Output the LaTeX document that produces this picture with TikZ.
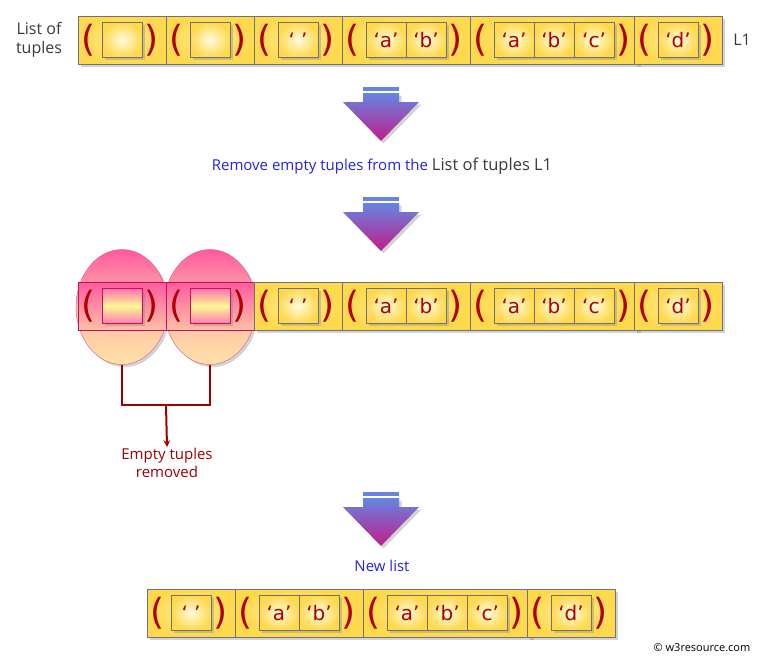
\documentclass[tikz,border=0pt]{standalone}
\usepackage{fontspec}
\setmainfont{Open Sans}
\newfontfamily\cellfont{DejaVu Sans}
\usetikzlibrary{arrows,shapes.geometric,shadows}

\definecolor{cellyellow}{HTML}{FFD94C}
\definecolor{glow}{HTML}{FFFBE2}
\definecolor{edgegray}{HTML}{6F7080}
\definecolor{tupred}{HTML}{B00000}
\definecolor{hotpink}{HTML}{FF5AA0}
\definecolor{peach}{HTML}{FFE2A8}
\definecolor{pinkedge}{HTML}{C8105A}
\definecolor{lemon}{HTML}{FFF696}
\definecolor{textblue}{HTML}{2323E6}
\definecolor{textgray}{HTML}{3A3A3A}
\definecolor{arrowtop}{HTML}{6585E2}
\definecolor{arrowbot}{HTML}{C21C8A}

% one tuple: name, left x, top y, number of items, items, colour (yellow/pink)
\newcommand\tuplecell[6]{%
  \node[#6cell, minimum width={48+40*#4}, anchor=north west] (#1) at (#2,#3) {};
  \node[paren] (#1-l) at ([xshift=11]#1.west) {(};
  \node[paren] (#1-r) at ([xshift=-14]#1.east) {)};
  \foreach \t [count=\i] in {#5}
    \node[#6box] (#1-\i) at ([xshift={4+40*\i}]#1.west) {\t};
}

% the down arrow between the steps, (x,y) = top of its bar
\newcommand\flowarrow[2]{%
  \fill[arrowtop] (#1-18,#2) rectangle (#1+18,#2+4);
  \shade[top color=arrowtop, bottom color=arrowbot]
    (#1-18,#2+6) -- (#1+18,#2+6) -- (#1+18,#2+15) -- (#1+38,#2+15)
    -- (#1,#2+54) -- (#1-38,#2+15) -- (#1-18,#2+15) -- cycle;
}

\begin{document}
\begin{tikzpicture}[
            x = 1pt, y = -1pt, % pixel grid
            > = stealth, % arrow head style
            shade/.style = {drop shadow={shadow xshift=2.5pt, shadow yshift=-2.5pt, opacity=.35}},
            yellowcell/.style = {draw=edgegray, inner color=cellyellow!55!glow, outer color=cellyellow, minimum height=48, inner sep=0, outer sep=0, shade},
            yellowbox/.style = {draw=edgegray, inner color=glow, outer color=cellyellow, minimum width=40, minimum height=35, inner sep=0, text=tupred, font=\cellfont\fontsize{20}{20}\selectfont, shade},
            pinkcell/.style = {draw=pinkedge, top color=hotpink, bottom color=hotpink!25!peach, minimum height=48, inner sep=0, outer sep=0},
            pinkbox/.style = {draw=pinkedge, top color=hotpink!85!white, bottom color=hotpink!80!white, middle color=lemon, minimum width=40, minimum height=35, inner sep=0, shade},
            paren/.style = {text=tupred, inner sep=0, font=\cellfont\fontsize{36}{36}\selectfont},
            blob/.style = {ellipse, draw=pinkedge!70, top color=hotpink, bottom color=peach, middle color=hotpink!30!peach, minimum width=92, minimum height=115, inner sep=0, shade},
            link/.style = {draw=tupred!90!black, line width=2pt},
            caption/.style = {font=\fontsize{15}{18}\selectfont},
        ]
	\useasboundingbox (0,0) rectangle (771,664);

	% the list L1
	\node[text=textgray, align=center, font=\fontsize{16}{19}\selectfont] (title) at (39,40) {List of\\tuples};
	\tuplecell{a1}{78}{16}{1}{\empty}{yellow}
	\tuplecell{a2}{166}{16}{1}{\empty}{yellow}
	\tuplecell{a3}{254}{16}{1}{‘\hspace{6pt}’}{yellow}
	\tuplecell{a4}{342}{16}{2}{‘a’,‘b’}{yellow}
	\tuplecell{a5}{470}{16}{3}{‘a’,‘b’,‘c’}{yellow}
	\tuplecell{a6}{634}{16}{1}{‘d’}{yellow}
	\node[text=textgray, font=\fontsize{16}{19}\selectfont] (name) at (742,40) {L1};

	\flowarrow{381}{87}
	\node[caption, text=textgray] (task) at (382,166)
		{\textcolor{textblue}{\fontsize{15}{18}\selectfont Remove empty tuples from the} {\fontsize{16.5}{18}\selectfont List of tuples L1}};
	\flowarrow{381}{197}

	% empty tuples picked out
	\node[blob] (e1) at (122,307) {};
	\node[blob] (e2) at (210,307) {};
	\tuplecell{b1}{78}{282}{1}{\empty}{pink}
	\tuplecell{b2}{166}{282}{1}{\empty}{pink}
	\tuplecell{b3}{254}{282}{1}{‘\hspace{6pt}’}{yellow}
	\tuplecell{b4}{342}{282}{2}{‘a’,‘b’}{yellow}
	\tuplecell{b5}{470}{282}{3}{‘a’,‘b’,‘c’}{yellow}
	\tuplecell{b6}{634}{282}{1}{‘d’}{yellow}

	\coordinate (merge) at (166,405);
	\node[caption, text=tupred!90!black, align=center, anchor=north, inner sep=1] (gone) at (167,447) {Empty tuples\\removed};
	\draw[link] (e1.south) |- (merge) -| (e2.south);
	\draw[link,->] (merge) -- (gone.north);

	\flowarrow{381}{492}
	\node[caption, text=textblue] (result) at (382,566) {New list};

	% the new list
	\tuplecell{c1}{147}{589}{1}{‘\hspace{6pt}’}{yellow}
	\tuplecell{c2}{235}{589}{2}{‘a’,‘b’}{yellow}
	\tuplecell{c3}{363}{589}{3}{‘a’,‘b’,‘c’}{yellow}
	\tuplecell{c4}{527}{589}{1}{‘d’}{yellow}

	\node[font=\fontsize{11}{13}\selectfont] (credit) at (702,648) {© w3resource.com};
\end{tikzpicture}
\end{document}
